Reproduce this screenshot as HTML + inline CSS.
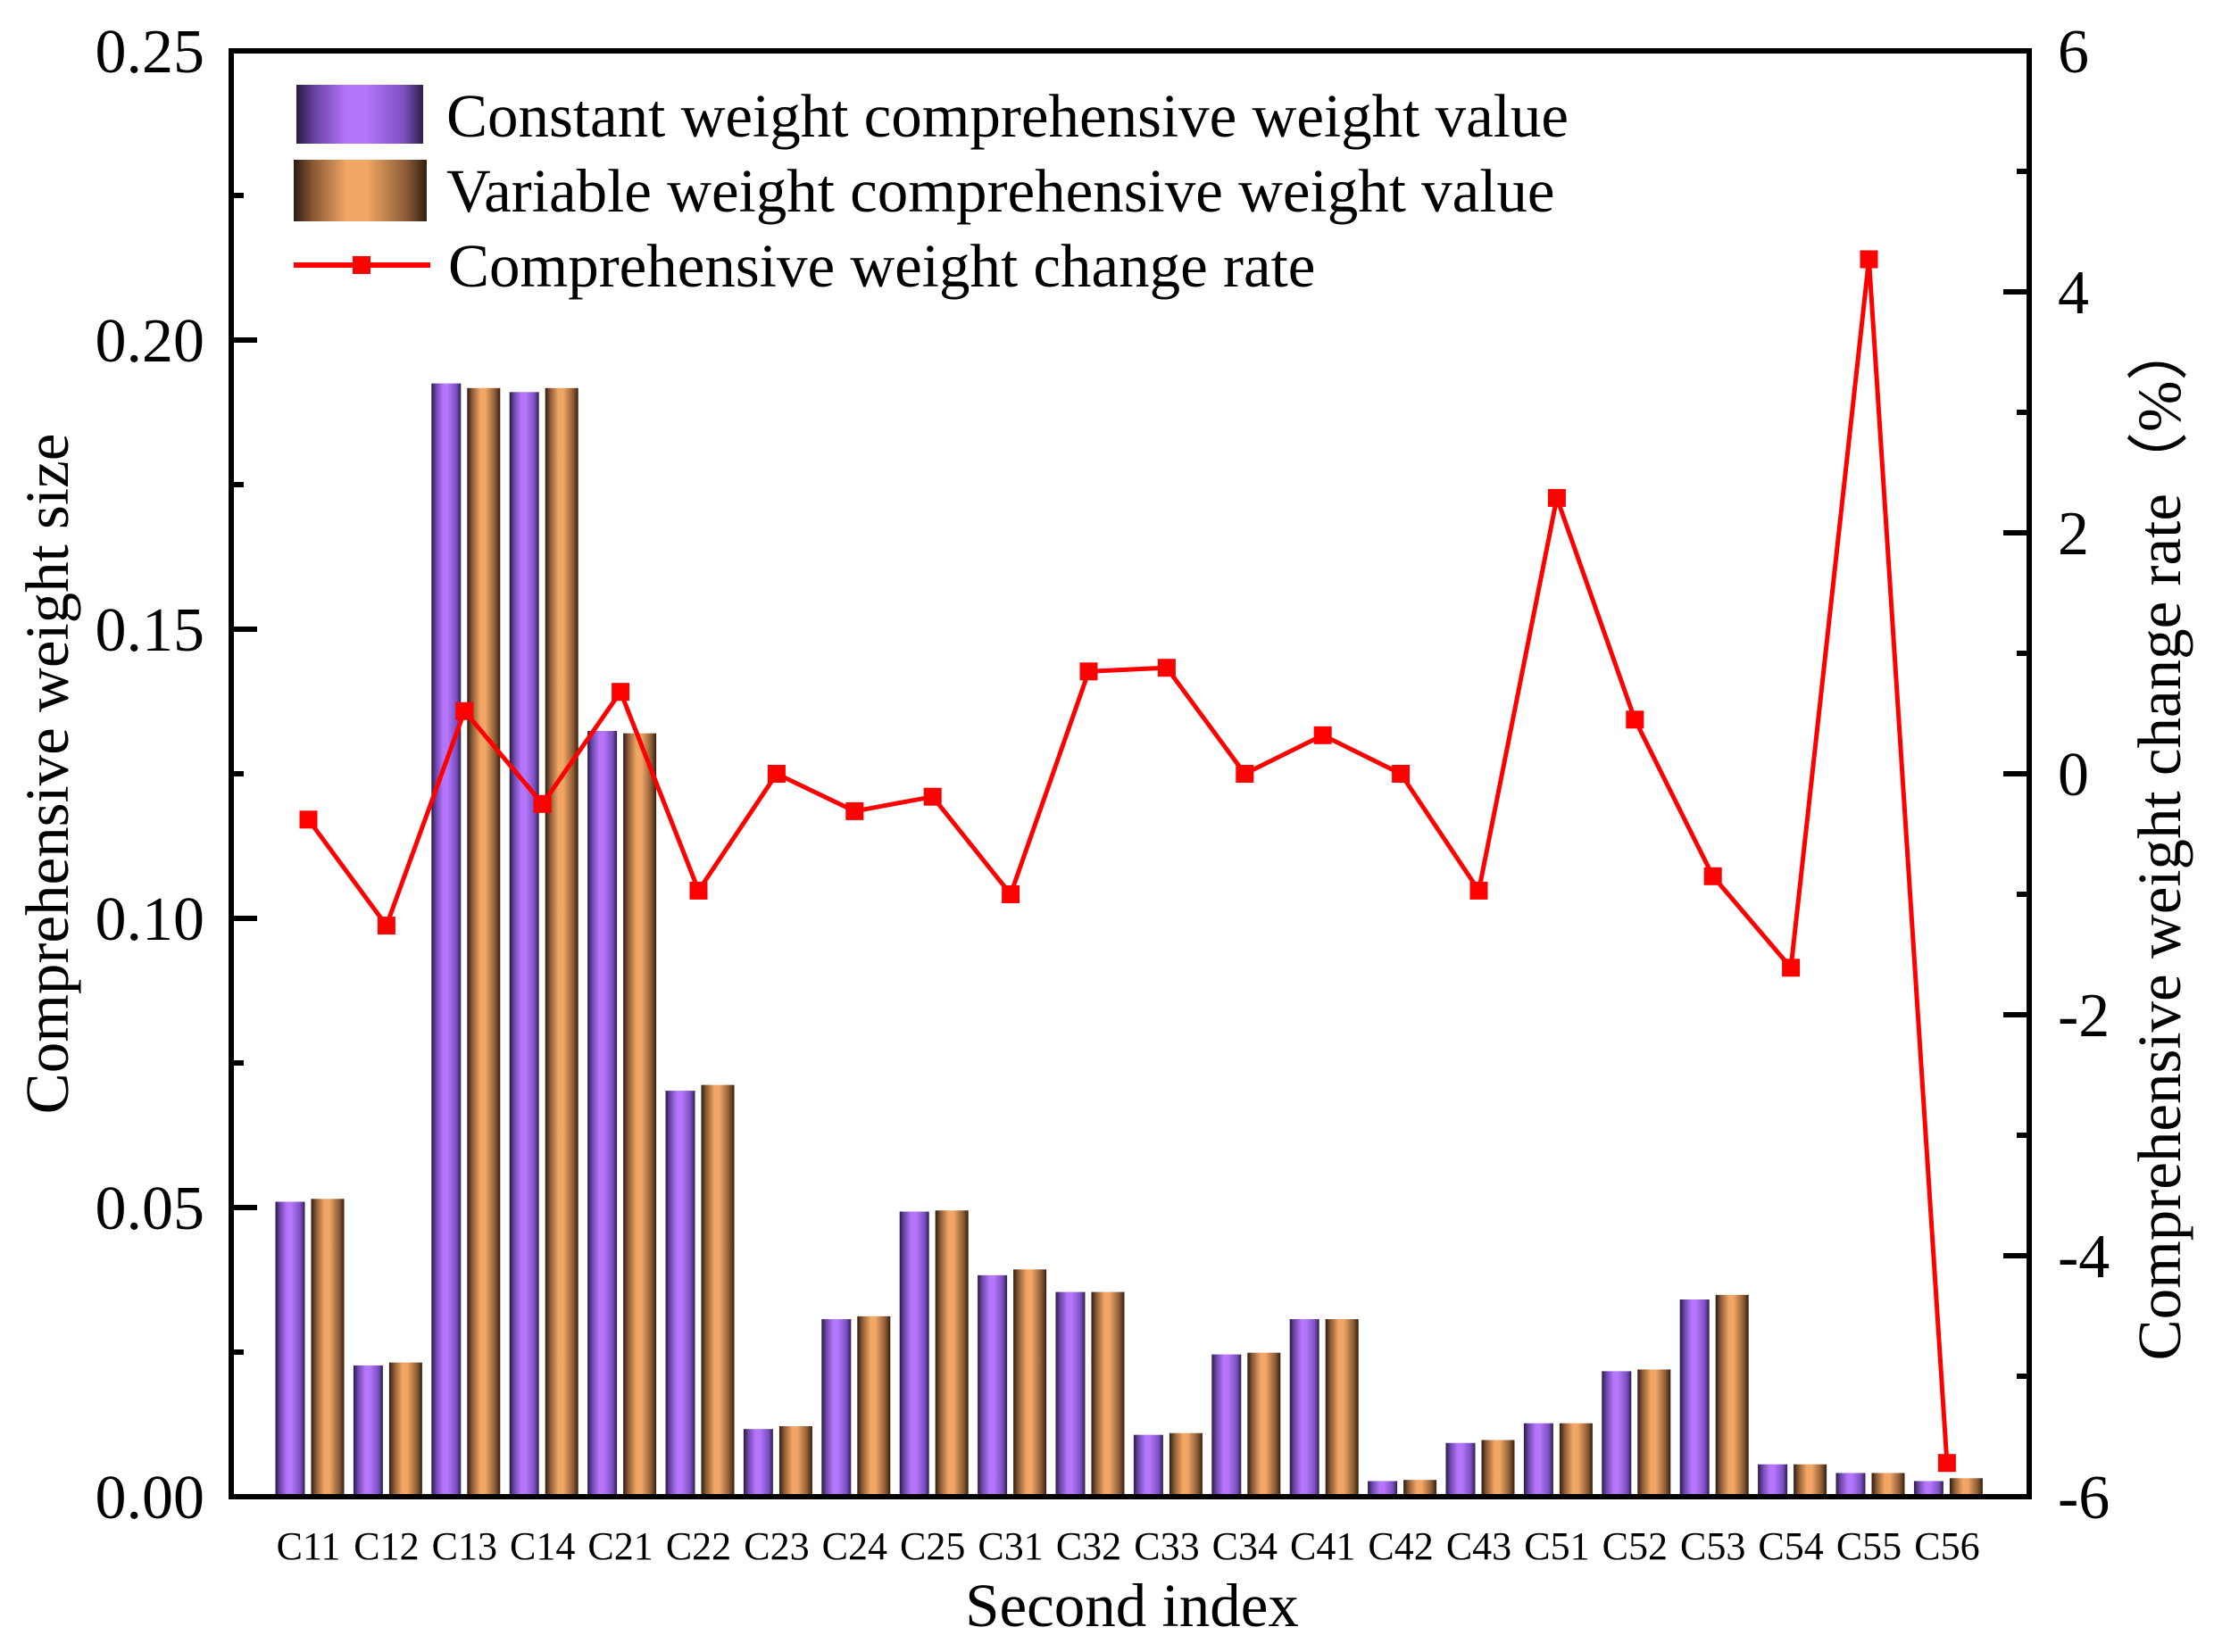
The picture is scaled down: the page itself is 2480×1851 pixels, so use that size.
<!DOCTYPE html>
<html><head><meta charset="utf-8"><style>html,body{margin:0;padding:0;background:#fff}svg{display:block}text{font-family:"Liberation Serif","Times New Roman",serif;fill:#000}</style></head>
<body>
<svg id="s" width="2480" height="1851" viewBox="0 0 2480 1851" xmlns="http://www.w3.org/2000/svg" font-family="Liberation Serif, serif">
<defs>
<linearGradient id="gp" x1="0" x2="1" y1="0" y2="0">
<stop offset="0" stop-color="#2a1a40"/><stop offset="0.15" stop-color="#6a45a8"/><stop offset="0.4" stop-color="#b576fb"/><stop offset="0.55" stop-color="#b576fb"/><stop offset="0.85" stop-color="#7a4fc0"/><stop offset="1" stop-color="#2e1e48"/></linearGradient>
<linearGradient id="go" x1="0" x2="1" y1="0" y2="0">
<stop offset="0" stop-color="#2e1c10"/><stop offset="0.15" stop-color="#8a5a35"/><stop offset="0.4" stop-color="#f2a665"/><stop offset="0.55" stop-color="#f2a665"/><stop offset="0.85" stop-color="#8a5a35"/><stop offset="1" stop-color="#33200f"/></linearGradient>
</defs>
<g id="bars"></g>
<g id="line"></g>
<rect x="259" y="57" width="2014" height="1620" fill="none" stroke="#000" stroke-width="6"/>
<g id="ticks" stroke="#000" stroke-width="6"></g>
<g id="labels"></g>
<rect x="332" y="95" width="142" height="66" fill="url(#gp)"/>
<rect x="329" y="179" width="149" height="69" fill="url(#go)"/>
<line x1="329" y1="297" x2="482" y2="297" stroke="#f00" stroke-width="6"/>
<rect x="395" y="287" width="20" height="20" fill="#f00"/>
<text x="500" y="153" font-size="69">Constant weight comprehensive weight value</text>
<text x="500" y="237" font-size="69">Variable weight comprehensive weight value</text>
<text x="502" y="321" font-size="69">Comprehensive weight change rate</text>
<text x="1268" y="1822" font-size="69" text-anchor="middle">Second index</text>
<text transform="translate(76,867) rotate(-90)" font-size="69" text-anchor="middle">Comprehensive weight size</text>
<text transform="translate(2442,941) rotate(-90)" font-size="69" text-anchor="middle">Comprehensive weight change rate（%）</text>
</svg>
<script>
var ns="http://www.w3.org/2000/svg";
function el(p,t,a,txt){var e=document.createElementNS(ns,t);for(var k in a)e.setAttribute(k,a[k]);if(txt!==undefined)e.textContent=txt;document.getElementById(p).appendChild(e);return e;}
var names=["C11","C12","C13","C14","C21","C22","C23","C24","C25","C31","C32","C33","C34","C41","C42","C43","C51","C52","C53","C54","C55","C56"];
var P=[0.051,0.0227,0.1925,0.191,0.1324,0.0702,0.0117,0.0307,0.0493,0.0383,0.0354,0.0107,0.0246,0.0307,0.0027,0.0093,0.0127,0.0217,0.0341,0.0056,0.0041,0.0027];
var O=[0.0515,0.0232,0.1917,0.1917,0.132,0.0712,0.0122,0.0312,0.0495,0.0393,0.0354,0.011,0.0249,0.0307,0.0029,0.0098,0.0127,0.022,0.0349,0.0056,0.0041,0.0032];
var L=[-0.38,-1.26,0.52,-0.25,0.68,-0.97,0,-0.31,-0.19,-1.0,0.85,0.88,0,0.32,0,-0.97,2.29,0.45,-0.85,-1.61,4.27,-5.72];
var B=1677,T=57,H=B-T;
function yl(v){return B-v/0.25*H;}
function yr(v){return B-(v+6)/12*H;}
var pts=[];
for(var i=0;i<22;i++){
 var c=345.5+i*87.4;
 el("bars","rect",{x:c-37,y:yl(P[i]),width:33,height:B-yl(P[i]),fill:"url(#gp)"});
 el("bars","rect",{x:c+3,y:yl(O[i]),width:37,height:B-yl(O[i]),fill:"url(#go)"});
 el("labels","text",{x:c,y:1747,"font-size":"44","text-anchor":"middle"},names[i]);
 pts.push(c.toFixed(1)+","+yr(L[i]).toFixed(1));
}
el("line","polyline",{points:pts.join(" "),fill:"none",stroke:"#f00","stroke-width":"5","stroke-linejoin":"miter"});
pts.forEach(function(p){var a=p.split(",");el("line","rect",{x:+a[0]-10,y:+a[1]-10,width:20,height:20,fill:"#f00"});});
for(var k=0;k<=10;k++){var y=B-k*H/10;var len=(k%2==0)?29:14;
 if(k>0&&k<10)el("ticks","line",{x1:259,y1:y,x2:259+len,y2:y});
 if(k%2==0)el("labels","text",{x:229,y:y+24,"font-size":"70","text-anchor":"end"},(k*0.025).toFixed(2));}
for(var k=0;k<=12;k++){var y=B-k*H/12;var len=(k%2==0)?29:14;
 if(k>0&&k<12)el("ticks","line",{x1:2273,y1:y,x2:2273-len,y2:y});
 if(k%2==0){var v=k-6;el("labels","text",{x:2305,y:y+24,"font-size":"70"},v<0?"-"+(-v):""+v);}}
</script>
</body></html>
